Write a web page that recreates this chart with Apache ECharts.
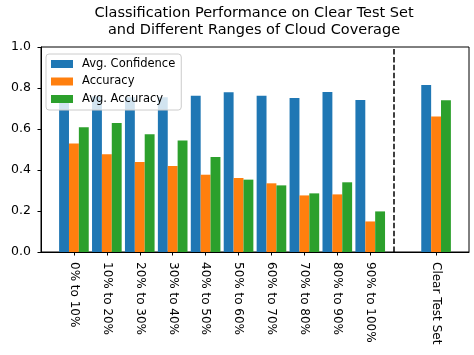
<!DOCTYPE html>
<html>
<head>
<meta charset="utf-8">
<script src="https://cdn.jsdelivr.net/npm/echarts@6/dist/echarts.min.js"></script>
<style>
html,body{margin:0;padding:0;background:#fff;}
#chart{width:474px;height:355px;}
</style>
</head>
<body>
<div id="chart"></div>
<script>
const categories = ['0% to 10%','10% to 20%','20% to 30%','30% to 40%','40% to 50%','50% to 60%','60% to 70%','70% to 80%','80% to 90%','90% to 100%','Clear Test Set'];
const avgConfidence = [0.750, 0.758, 0.755, 0.755, 0.762, 0.779, 0.762, 0.751, 0.780, 0.741, 0.815];
const accuracy      = [0.529, 0.477, 0.439, 0.420, 0.377, 0.361, 0.335, 0.276, 0.281, 0.149, 0.661];
const avgAccuracy   = [0.609, 0.629, 0.575, 0.544, 0.464, 0.353, 0.325, 0.286, 0.340, 0.198, 0.740];
const yTicks = [0.0, 0.2, 0.4, 0.6, 0.8, 1.0];

// slot layout: padding slot, 10 ranges, separator slot, clear set, padding slot
const slots = ['__padL'].concat(categories.slice(0, 10), ['__sep', categories[10], '__padR']);
function toSlots(vals) {
  return slots.map(s => {
    const i = categories.indexOf(s);
    return i >= 0 ? vals[i] : null;
  });
}
const sepIndex = slots.indexOf('__sep');
const font = 'DejaVu Sans';

const chart = echarts.init(document.getElementById('chart'), null, {renderer: 'canvas'});
chart.setOption({
  animation: false,
  backgroundColor: '#fff',
  title: {
    text: 'Classification Performance on Clear Test Set\nand Different Ranges of Cloud Coverage',
    left: 254, top: 5, textAlign: 'center', padding: 0,
    textStyle: {fontFamily: font, fontSize: 14.5, fontWeight: 'normal', color: '#000', lineHeight: 17}
  },
  grid: {left: 41, right: 5, top: 47, bottom: 103, show: true, borderColor: '#000', borderWidth: 1, backgroundColor: 'transparent'},
  legend: {
    orient: 'vertical', left: 46, top: 54,
    itemWidth: 22, itemHeight: 8, itemGap: 5.5,
    icon: 'rect',
    backgroundColor: 'rgba(255,255,255,0.8)', borderColor: '#ccc', borderWidth: 1, borderRadius: 3,
    padding: [4, 6, 5, 5],
    textStyle: {fontFamily: font, fontSize: 11.5, color: '#000', padding: [0, 0, 0, 4]},
    data: ['Avg. Confidence', 'Accuracy', 'Avg. Accuracy']
  },
  xAxis: {
    type: 'category', data: slots, boundaryGap: false,
    axisLine: {show: true, lineStyle: {color: '#000', width: 1}},
    axisTick: {show: true, length: 3.5, lineStyle: {color: '#000'},
      interval: (idx, val) => categories.indexOf(val) >= 0},
    axisLabel: {interval: 0, rotate: -90, margin: 10, fontFamily: font, fontSize: 12, color: '#000',
      formatter: v => categories.indexOf(v) >= 0 ? v : ''},
    splitLine: {show: false}
  },
  yAxis: {
    type: 'value', min: yTicks[0], max: yTicks[yTicks.length - 1], interval: 0.2,
    axisLine: {show: true, lineStyle: {color: '#000', width: 1}},
    axisTick: {show: true, length: 3.5, lineStyle: {color: '#000'}},
    axisLabel: {margin: 10, fontFamily: font, fontSize: 12.5, color: '#000', formatter: v => v.toFixed(1)},
    splitLine: {show: false}
  },
  series: [
    {name: 'Avg. Confidence', type: 'bar', data: toSlots(avgConfidence), barWidth: '30%', barGap: '0%',
      itemStyle: {color: '#1f77b4'},
      markLine: {silent: true, symbol: 'none', label: {show: false},
        lineStyle: {color: '#000', type: [5.5, 2.4], width: 1.5},
        data: [{xAxis: sepIndex}]}},
    {name: 'Accuracy', type: 'bar', data: toSlots(accuracy), barWidth: '30%', barGap: '0%', itemStyle: {color: '#ff7f0e'}},
    {name: 'Avg. Accuracy', type: 'bar', data: toSlots(avgAccuracy), barWidth: '30%', barGap: '0%', itemStyle: {color: '#2ca02c'}}
  ]
});
</script>
</body>
</html>
